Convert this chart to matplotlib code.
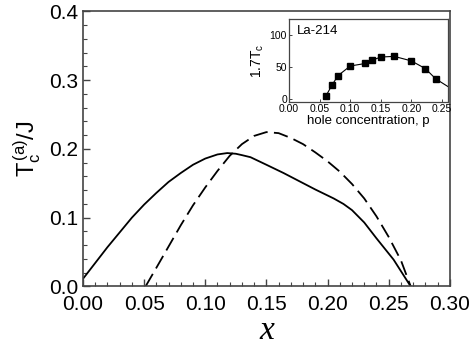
import matplotlib
matplotlib.use('Agg')
import matplotlib.pyplot as plt
from matplotlib.ticker import MultipleLocator

# main panel: Tc(a)/J vs x
x_solid = [0.0, 0.02, 0.04, 0.05, 0.06, 0.07, 0.08, 0.09, 0.10, 0.11, 0.118, 0.125, 0.13, 0.137,
           0.15, 0.164, 0.19, 0.205, 0.213, 0.22, 0.23, 0.24, 0.254, 0.268]
tc_solid = [0.011, 0.057, 0.100, 0.119, 0.136, 0.152, 0.165, 0.177, 0.186, 0.192, 0.194, 0.193, 0.191, 0.188,
            0.177, 0.165, 0.141, 0.128, 0.120, 0.111, 0.093, 0.070, 0.039, 0.0]

x_dash = [0.0512, 0.06, 0.07, 0.08, 0.09, 0.10, 0.11, 0.12, 0.13, 0.14, 0.15, 0.16, 0.17,
          0.18, 0.19, 0.20, 0.21, 0.22, 0.23, 0.24, 0.25, 0.26, 0.268]
tc_dash = [0.0, 0.027, 0.058, 0.089, 0.118, 0.144, 0.168, 0.190, 0.207, 0.219, 0.2245, 0.223, 0.216,
           0.207, 0.195, 0.182, 0.167, 0.149, 0.128, 0.102, 0.072, 0.038, 0.0]

# inset: La-214, 1.7 Tc vs hole concentration p
p_214 = [0.06, 0.07, 0.08, 0.10, 0.125, 0.136, 0.15, 0.172, 0.20, 0.223, 0.24]
tc_214 = [5, 22, 37, 52, 56, 61, 66, 67, 60, 48, 32]
p_tail = 0.26
tc_tail = 20

plt.rcParams['font.family'] = ['Liberation Sans', 'DejaVu Sans']
plt.rcParams['mathtext.fontset'] = 'custom'
plt.rcParams['mathtext.rm'] = 'Liberation Sans'
plt.rcParams['mathtext.it'] = 'Liberation Sans'

axcol = '#444444'

fig = plt.figure(figsize=(4.74, 3.48), dpi=100)
ax = fig.add_axes([0.175, 0.177, 0.774, 0.790])

ax.plot(x_solid, tc_solid, color='black', lw=1.3)
ax.plot(x_dash, tc_dash, color='black', lw=1.3, dashes=(8, 3.5))

ax.set_xlim(0, 0.30)
ax.set_ylim(0, 0.4)
ax.xaxis.set_major_locator(MultipleLocator(0.05))
ax.xaxis.set_minor_locator(MultipleLocator(0.01))
ax.yaxis.set_major_locator(MultipleLocator(0.1))
ax.yaxis.set_minor_locator(MultipleLocator(0.02))
ax.xaxis.set_major_formatter(plt.FormatStrFormatter('%.2f'))
ax.yaxis.set_major_formatter(plt.FormatStrFormatter('%.1f'))
ax.tick_params(which='both', direction='in', color=axcol, labelsize=15)
ax.tick_params(which='major', length=5, width=1)
ax.tick_params(which='minor', length=3, width=0.8)
ax.tick_params(axis='x', pad=6.5)
for s in ax.spines.values():
    s.set_color(axcol)
    s.set_linewidth(1.2)

ax.set_ylabel(r'$\mathrm{T_c^{\,(a)}/J}$', fontsize=17, labelpad=4)
fig.text(0.562, 0.025, 'x', fontsize=24, family='Liberation Serif', style='italic',
         ha='center', va='baseline')

# inset
ins = fig.add_axes([0.610, 0.707, 0.335, 0.238])
ins.plot(p_214 + [p_tail], tc_214 + [tc_tail], color='black', lw=0.8)
ins.plot(p_214, tc_214, 's', color='black', ms=4)
ins.set_xlim(0, 0.26)
ins.set_ylim(-4, 125)
ins.xaxis.set_major_locator(MultipleLocator(0.05))
ins.yaxis.set_major_locator(MultipleLocator(50))
ins.xaxis.set_major_formatter(plt.FormatStrFormatter('%.2f'))
ins.tick_params(direction='in', length=2.5, width=0.7, labelsize=7.5, pad=1.5, color=axcol)
for s in ins.spines.values():
    s.set_color(axcol)
    s.set_linewidth(0.9)
ins.set_xlabel('hole concentration, p', fontsize=9.5, labelpad=1)
ins.set_ylabel('1.7T$_\\mathrm{c}$', fontsize=10, labelpad=3)
ins.text(0.05, 0.93, 'La-214', transform=ins.transAxes, fontsize=9.5, va='top', ha='left')

fig.savefig('out.png', dpi=100)
